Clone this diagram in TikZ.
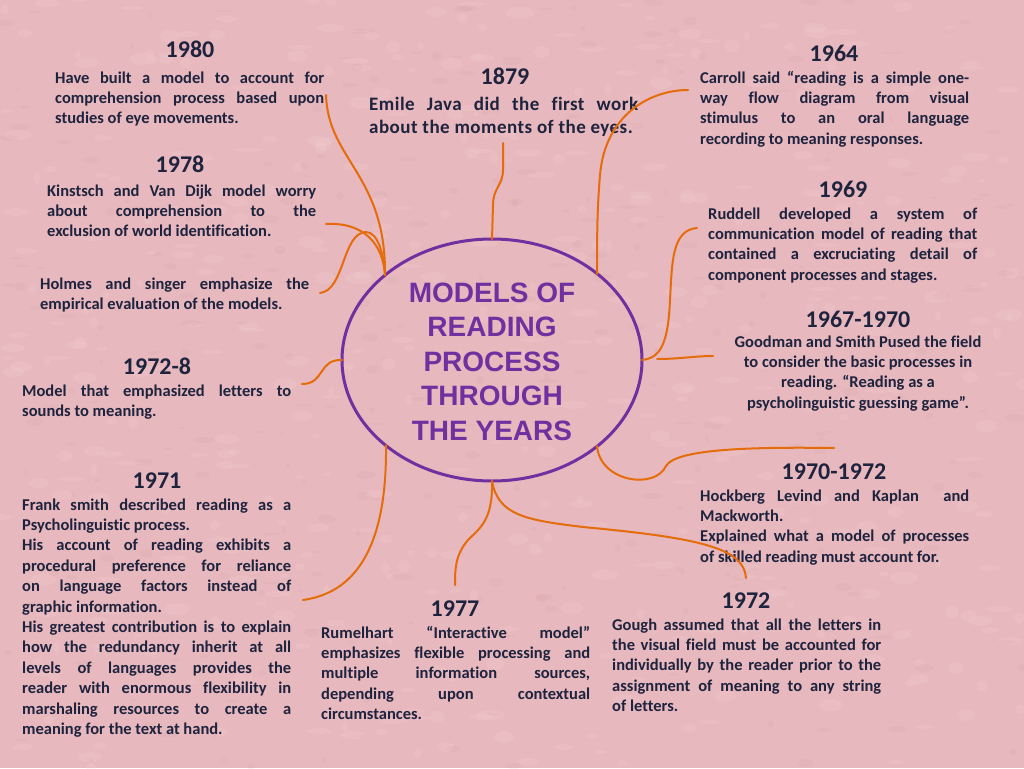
\documentclass[tikz,border=0pt]{standalone}
\usepackage{fontspec}
\usetikzlibrary{shapes.geometric}
\setmainfont{Carlito}[Ligatures=NoCommon]
\newfontfamily\titlefont{Liberation Sans}
\newfontfamily\widefont{Carlito}[LetterSpace=2.5,Ligatures=NoCommon]
\definecolor{bgpink}{RGB}{231,184,189}
\definecolor{specklight}{RGB}{245,215,218}
\definecolor{speckdark}{RGB}{200,150,155}
\definecolor{ink}{RGB}{30,35,62}
\definecolor{hubpurple}{RGB}{112,48,160}
\definecolor{linkorange}{RGB}{228,108,10}
\newcommand\jl[1]{\makebox[269pt][s]{#1}}
\begin{document}
\begin{tikzpicture}[x=1pt,y=-1pt,
  yearlbl/.style={anchor=base, inner sep=0, text=ink, font=\fontsize{24}{28}\selectfont\bfseries},
  body/.style={anchor=base west, inner sep=0, text=ink, align=left, font=\fontsize{16.5}{20.4}\selectfont\bfseries},
  cbody/.style={body, anchor=base, align=center},
  link/.style={draw=linkorange, line width=2pt, line cap=round},
  hubstyle/.style={ellipse, draw=hubpurple, line width=3pt, minimum width=300pt, minimum height=242pt, inner sep=0},
  titlestyle/.style={anchor=base, inner sep=0, align=center, text=hubpurple, font=\titlefont\fontsize{28}{34.5}\selectfont\bfseries},
]
\useasboundingbox (0,0) rectangle (1024,768);
\fill[bgpink] (0,0) rectangle (1024,768);
% paper texture
\pgfmathsetseed{4242}
\foreach \i in {1,...,500}{
  \pgfmathsetmacro{\px}{random(0,1024)}
  \pgfmathsetmacro{\py}{random(0,768)}
  \pgfmathsetmacro{\rx}{random(3,14)}
  \pgfmathsetmacro{\ry}{random(2,6)}
  \fill[specklight, opacity=0.18] (\px,\py) ellipse [x radius=\rx, y radius=\ry];
}
\foreach \i in {1,...,350}{
  \pgfmathsetmacro{\px}{random(0,1024)}
  \pgfmathsetmacro{\py}{random(0,768)}
  \pgfmathsetmacro{\rx}{random(2,10)}
  \pgfmathsetmacro{\ry}{random(1,4)}
  \fill[speckdark, opacity=0.10] (\px,\py) ellipse [x radius=\rx, y radius=\ry];
}

% hub (multi-line nodes are placed by the baseline of their LAST line)
\node[hubstyle] (hub) at (492,360) {};
\node[titlestyle] (title) at (492,440) {MODELS OF\\READING\\PROCESS\\THROUGH\\THE YEARS};

% 1980
\node[yearlbl] (y1980) at (190,58) {1980};
\node[body] (t1980) at (55,123.8) {\jl{Have built a model to account for}\\\jl{comprehension process based upon}\\studies of eye movements.};
% 1978
\node[yearlbl] (y1978) at (180,172) {1978};
\node[body] (t1978) at (47,236.8) {\jl{Kinstsch and Van Dijk model worry}\\\jl{about comprehension to the}\\exclusion of world\ identification.};
% Holmes
\node[body] (tHolmes) at (40,309.4) {\jl{Holmes and singer emphasize the}\\empirical evaluation of the models.};
% 1972-8
\node[yearlbl] (y19728) at (157,374) {1972-8};
\node[body] (t19728) at (22,416.4) {\jl{Model that emphasized\ letters to}\\sounds to meaning.};
% 1971
\node[yearlbl] (y1971) at (157,488) {1971};
\node[body] (t1971) at (22,734.4) {\jl{Frank smith described reading as a}\\Psycholinguistic process.\\\jl{His account of reading\ exhibits a}\\\jl{procedural\ preference for reliance}\\\jl{on language factors instead of}\\graphic information.\\\jl{His greatest contribution is to explain}\\\jl{how the redundancy inherit at all}\\\jl{levels of languages provides the}\\\jl{reader\ with enormous flexibility in}\\\jl{marshaling resources to create a}\\meaning for the text at hand.};
% 1879
\node[yearlbl] (y1879) at (505,84) {1879};
\node[body, font=\widefont\fontsize{19}{23}\selectfont\bfseries] (t1879) at (369,133) {\jl{Emile Java did the first work}\\about the moments of the eyes.};
% 1964
\node[yearlbl] (y1964) at (834,61) {1964};
\node[body] (t1964) at (700,144.2) {\jl{Carroll said “reading is a simple one-}\\\jl{way flow diagram from visual}\\\jl{stimulus to an oral language}\\recording to meaning responses.};
% 1969
\node[yearlbl] (y1969) at (843,197) {1969};
\node[body] (t1969) at (708,280.2) {\jl{Ruddell developed a system of}\\\jl{communication model of reading that}\\\jl{contained a excruciating detail of}\\component processes and stages.};
% 1967-1970
\node[yearlbl] (y1967) at (858,327) {1967-1970};
\node[cbody] (t1967) at (858,408.2) {Goodman and Smith Pused the field\\to consider the basic processes in\\reading. “Reading\ as a\\psycholinguistic guessing game”.};
% 1970-1972
\node[yearlbl] (y1970) at (834,479) {1970-1972};
\node[body] (t1970) at (700,562.2) {\jl{Hockberg Levind and Kaplan\ \ and}\\Mackworth.\\\jl{Explained what a model\ of processes}\\of skilled reading must account for.};
% 1972
\node[yearlbl] (y1972) at (746,608) {1972};
\node[body] (t1972) at (612,711.6) {\jl{Gough assumed that all the letters in}\\\jl{the visual field must be accounted for}\\\jl{individually by the reader prior to the}\\\jl{assignment of meaning to any string}\\of letters.};
% 1977
\node[yearlbl] (y1977) at (455,616) {1977};
\node[body] (t1977) at (321,719.6) {\jl{Rumelhart\ \ “Interactive\ \ model”}\\\jl{emphasizes flexible processing and}\\\jl{multiple information sources,}\\\jl{depending upon contextual}\\circumstances.};

% connector ends
\coordinate (hNW) at (385,275);
\coordinate (hW) at (342,360);
\coordinate (hSW) at (386,445);
\coordinate (hN) at (492,239);
\coordinate (hNE) at (597,274);
\coordinate (hE) at (642,360);
\coordinate (hSE) at (597,446);
\coordinate (hS) at (492,481);
\coordinate (e1980) at (326,95);
\coordinate (e1978) at (326,224);
\coordinate (eHolmes) at (320,293);
\coordinate (e19728) at (302,384);
\coordinate (e1971) at (303,600);
\coordinate (e1879) at (503,143);
\coordinate (e1964) at (688,90);
\coordinate (e1969) at (697,228);
\coordinate (e1967a) at (657,359);
\coordinate (e1967b) at (713,356);
\coordinate (e1970) at (834,448);
\coordinate (e1977) at (455,585);
\coordinate (e1972) at (746,578);

\draw[link] (e1980) .. controls (328,160) and (386,175) .. (hNW);
\draw[link] (e1978) .. controls (365,222) and (383,245) .. (hNW);
\draw[link] (eHolmes) .. controls (345,290) and (342,233) .. (366,232) .. controls (378,232) and (384,255) .. (hNW);
\draw[link] (e19728) .. controls (325,384) and (318,359) .. (hW);
\draw[link] (e1971) .. controls (360,592) and (387,540) .. (hSW);
\draw[link] (e1879) -- (503,170) .. controls (503,185) and (493,188) .. (493,205) -- (hN);
\draw[link] (e1964) .. controls (650,90) and (605,115) .. (600,175) .. controls (597,210) and (597,240) .. (hNE);
\draw[link] (e1969) .. controls (672,230) and (672,262) .. (670,300) .. controls (668,345) and (660,358) .. (hE);
\draw[link] (e1967a) .. controls (680,359) and (695,356) .. (e1967b);
\draw[link] (hSE) .. controls (600,482) and (655,490) .. (666,466) .. controls (676,448) and (760,447) .. (e1970);
\draw[link] (hS) .. controls (493,520) and (480,528) .. (468,540) .. controls (455,555) and (455,570) .. (e1977);
\draw[link] (hS) .. controls (498,515) and (525,520) .. (583,527) .. controls (700,538) and (744,548) .. (e1972);
\end{tikzpicture}
\end{document}
